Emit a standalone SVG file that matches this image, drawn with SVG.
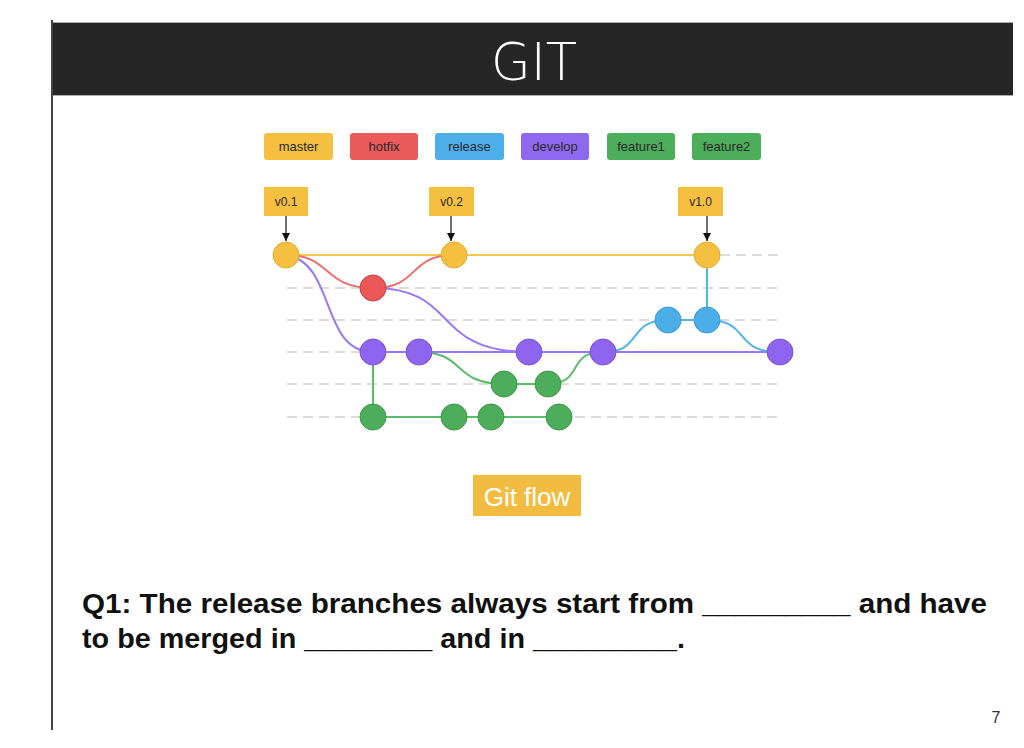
<svg xmlns="http://www.w3.org/2000/svg" width="1024" height="748" viewBox="0 0 1024 748">
<style>
.lbl{font-family:"Liberation Sans",Arial,sans-serif;font-size:13px;fill:#2a2a2a;text-anchor:middle}
.tag{font-family:"Liberation Sans",Arial,sans-serif;font-size:12px;fill:#2a2a2a;text-anchor:middle}
.dash{stroke:#dcdcdc;stroke-width:2;stroke-dasharray:10,6;fill:none}
.ln{fill:none;stroke-width:2}
.c{stroke-width:1}
.q{font-family:"Liberation Sans",Arial,sans-serif;font-weight:bold;font-size:28px;fill:#111}
</style>
<defs>
<marker id="ah" viewBox="0 0 10 10" refX="10" refY="5" markerWidth="8" markerHeight="8" markerUnits="userSpaceOnUse" orient="auto">
<path d="M0,0 L10,5 L0,10 z" fill="#111"/>
</marker>
</defs>
<rect width="1024" height="748" fill="#fff"/>
<g id="header">
<rect x="53" y="22" width="960" height="74" fill="#262626"/>
<line x1="53" y1="22.5" x2="1013" y2="22.5" stroke="#aaa" stroke-width="1"/>
<line x1="53" y1="95.5" x2="1013" y2="95.5" stroke="#aaa" stroke-width="1"/>
<text x="534" y="80" font-family="'DejaVu Sans','Liberation Sans',Arial,sans-serif" font-size="52" font-weight="200" fill="#fff" text-anchor="middle" textLength="86" lengthAdjust="spacingAndGlyphs">GIT</text>
</g>
<line x1="52" y1="20" x2="52" y2="730" stroke="#444" stroke-width="2"/>
<g id="legend">
<g id="lg-master"><rect x="264" y="133" width="69" height="27" rx="3" fill="#F5BF40"/><text class="lbl" x="298.5" y="151">master</text></g>
<g id="lg-hotfix"><rect x="350" y="133" width="68" height="27" rx="3" fill="#EB5B5B"/><text class="lbl" x="384" y="151">hotfix</text></g>
<g id="lg-release"><rect x="435" y="133" width="69" height="27" rx="3" fill="#4DAEEA"/><text class="lbl" x="469.5" y="151">release</text></g>
<g id="lg-develop"><rect x="521" y="133" width="68" height="27" rx="3" fill="#8F68F0"/><text class="lbl" x="555" y="151">develop</text></g>
<g id="lg-feature1"><rect x="607" y="133" width="68" height="27" rx="3" fill="#4CAD5A"/><text class="lbl" x="641" y="151">feature1</text></g>
<g id="lg-feature2"><rect x="692" y="133" width="69" height="27" rx="3" fill="#4CAD5A"/><text class="lbl" x="726.5" y="151">feature2</text></g>
</g>
<g id="grid">
<line class="dash" x1="287" y1="288" x2="780" y2="288"/>
<line class="dash" x1="287" y1="320" x2="780" y2="320"/>
<line class="dash" x1="287" y1="352" x2="780" y2="352"/>
<line class="dash" x1="287" y1="384" x2="780" y2="384"/>
<line class="dash" x1="287" y1="417" x2="780" y2="417"/>
<line class="dash" x1="720" y1="255" x2="780" y2="255"/>
</g>
<g id="connectors">
<line x1="286" y1="216" x2="286" y2="241" stroke="#111" stroke-width="1.2" marker-end="url(#ah)"/>
<line x1="451" y1="216" x2="451" y2="241" stroke="#111" stroke-width="1.2" marker-end="url(#ah)"/>
<line x1="707" y1="216" x2="707" y2="241" stroke="#111" stroke-width="1.2" marker-end="url(#ah)"/>
<path class="ln" stroke="#F5C84E" d="M286,255 L707,255"/>
<path class="ln" stroke="#EF6D6D" d="M286,255 C332,255 322,288 373,288"/>
<path class="ln" stroke="#EF6D6D" d="M373,288 C420,288 408,255 454,255"/>
<path class="ln" stroke="#9A78F5" d="M286,255 C336,262 320,352 373,352"/>
<path class="ln" stroke="#9A78F5" d="M373,288 C460,288 430,352 529,352"/>
<path class="ln" stroke="#9A78F5" d="M373,352 L780,352"/>
<path class="ln" stroke="#5DBB6C" d="M373,352 L373,417 L559,417"/>
<path class="ln" stroke="#5DBB6C" d="M419,352 C466,352 452,384 504,384 L548,384 C584,384 566,352 603,352"/>
<path class="ln" stroke="#52B4EC" d="M603,352 C644,352 626,320 668,320 L707,320 L707,255"/>
<path class="ln" stroke="#52B4EC" d="M707,320 C752,320 731,352 780,352"/>
</g>
<g id="tags">
<g id="tag-v01"><rect x="264" y="187" width="44" height="29" fill="#F5BF40"/><text class="tag" x="286" y="206">v0.1</text></g>
<g id="tag-v02"><rect x="429" y="187" width="45" height="29" fill="#F5BF40"/><text class="tag" x="451.5" y="206">v0.2</text></g>
<g id="tag-v10"><rect x="678" y="187" width="45" height="29" fill="#F5BF40"/><text class="tag" x="700.5" y="206">v1.0</text></g>
</g>
<g id="commits">
<g id="m1"><circle cx="286" cy="255" r="13" fill="#F5BF40" stroke="#E3AD30" class="c"/></g>
<g id="m2"><circle cx="454" cy="255" r="13" fill="#F5BF40" stroke="#E3AD30" class="c"/></g>
<g id="m3"><circle cx="707" cy="255" r="13" fill="#F5BF40" stroke="#E3AD30" class="c"/></g>
<g id="h1"><circle cx="373" cy="288" r="13" fill="#EB5757" stroke="#C94444" class="c"/></g>
<g id="r1"><circle cx="668" cy="320" r="13" fill="#4BAEE8" stroke="#3C9BD5" class="c"/></g>
<g id="r2"><circle cx="707" cy="320" r="13" fill="#4BAEE8" stroke="#3C9BD5" class="c"/></g>
<g id="d1"><circle cx="373" cy="352" r="13" fill="#8F64F0" stroke="#7A55D0" class="c"/></g>
<g id="d2"><circle cx="419" cy="352" r="13" fill="#8F64F0" stroke="#7A55D0" class="c"/></g>
<g id="d3"><circle cx="529" cy="352" r="13" fill="#8F64F0" stroke="#7A55D0" class="c"/></g>
<g id="d4"><circle cx="603" cy="352" r="13" fill="#8F64F0" stroke="#7A55D0" class="c"/></g>
<g id="d5"><circle cx="780" cy="352" r="13" fill="#8F64F0" stroke="#7A55D0" class="c"/></g>
<g id="f1a"><circle cx="504" cy="384" r="13" fill="#4CAD5A" stroke="#3E9A4B" class="c"/></g>
<g id="f1b"><circle cx="548" cy="384" r="13" fill="#4CAD5A" stroke="#3E9A4B" class="c"/></g>
<g id="f2a"><circle cx="373" cy="417" r="13" fill="#4CAD5A" stroke="#3E9A4B" class="c"/></g>
<g id="f2b"><circle cx="454" cy="417" r="13" fill="#4CAD5A" stroke="#3E9A4B" class="c"/></g>
<g id="f2c"><circle cx="491" cy="417" r="13" fill="#4CAD5A" stroke="#3E9A4B" class="c"/></g>
<g id="f2d"><circle cx="559" cy="417" r="13" fill="#4CAD5A" stroke="#3E9A4B" class="c"/></g>
</g>
<g id="caption">
<rect x="473" y="475" width="108" height="41" fill="#F2BC40"/>
<text x="527" y="506" font-family="'Liberation Sans',Arial,sans-serif" font-size="26" fill="#fff" text-anchor="middle">Git flow</text>
</g>
<g id="question">
<text class="q" x="82" y="613" textLength="905" lengthAdjust="spacingAndGlyphs">Q1: The release branches always start from _________ and have</text>
<text class="q" x="82" y="648" textLength="603" lengthAdjust="spacingAndGlyphs">to be merged in ________ and in _________.</text>
</g>
<text x="996" y="723" font-family="'Liberation Sans',Arial,sans-serif" font-size="16" fill="#333" text-anchor="middle">7</text>
</svg>
